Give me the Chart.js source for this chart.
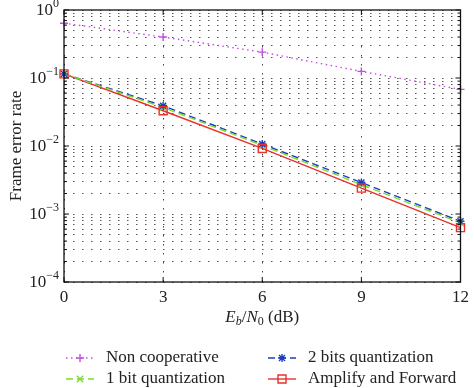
<!DOCTYPE html>
<html>
<head>
<meta charset="utf-8">
<script src="https://cdn.jsdelivr.net/npm/chart.js@4/dist/chart.umd.min.js"></script>
<style>
  html, body { margin: 0; padding: 0; background: #fff; }
  #wrap { width: 474px; height: 388px; }
</style>
</head>
<body>
<div id="wrap"><canvas id="ferChart" width="474" height="388"></canvas></div>
<script>
// Eb/N0 (dB)
const snr = [0, 3, 6, 9, 12];
// frame error rate per curve
const nonCooperative = [0.64, 0.40, 0.24, 0.125, 0.068];
const oneBit = [0.115, 0.037, 0.0102, 0.0027, 0.00074];
const twoBits = [0.115, 0.039, 0.0107, 0.0029, 0.00078];
const amplifyForward = [0.115, 0.033, 0.0092, 0.0024, 0.00063];

const seriesNames = ['Non cooperative', '1 bit quantization', '2 bits quantization', 'Amplify and Forward'];
const xTicks = [0, 3, 6, 9, 12];
const decades = [-4, -3, -2, -1, 0]; // y labels 10^k

const serif = '"Liberation Serif", "DejaVu Serif", serif';

// all log ticks 1..9 x 10^k for the dotted grid
const yTickValues = [];
for (let k = -4; k < 0; k++) {
    for (let m = 1; m <= 9; m++) {
        yTickValues.push(m * Math.pow(10, k));
    }
}
yTickValues.push(1);

function pts(arr) {
    return snr.map((x, i) => ({ x: x, y: arr[i] }));
}

const styles = [
    { color: '#c44fe4', dash: [1.5, 3.5], marker: 'plus' },
    { color: '#79de2c', dash: [7, 4], marker: 'x' },
    { color: '#1d3ec2', dash: [7, 4], marker: 'star' },
    { color: '#e8312d', dash: [], marker: 'square' }
];

function drawMarker(ctx, type, x, y, color) {
    const r = 4;
    ctx.save();
    ctx.setLineDash([]);
    ctx.strokeStyle = color;
    ctx.lineWidth = 1.4;
    ctx.beginPath();
    if (type === 'plus') {
        ctx.moveTo(x - r, y); ctx.lineTo(x + r, y);
        ctx.moveTo(x, y - r); ctx.lineTo(x, y + r);
    } else if (type === 'x') {
        ctx.moveTo(x - r * 0.8, y - r * 0.8); ctx.lineTo(x + r * 0.8, y + r * 0.8);
        ctx.moveTo(x - r * 0.8, y + r * 0.8); ctx.lineTo(x + r * 0.8, y - r * 0.8);
    } else if (type === 'star') {
        ctx.moveTo(x - r, y); ctx.lineTo(x + r, y);
        ctx.moveTo(x, y - r); ctx.lineTo(x, y + r);
        ctx.moveTo(x - r * 0.75, y - r * 0.75); ctx.lineTo(x + r * 0.75, y + r * 0.75);
        ctx.moveTo(x - r * 0.75, y + r * 0.75); ctx.lineTo(x + r * 0.75, y - r * 0.75);
    } else {
        ctx.rect(x - r, y - r, 2 * r, 2 * r);
    }
    ctx.stroke();
    ctx.restore();
}

// markers, frame, y labels, x title and legend
const decorPlugin = {
    id: 'decor',
    afterDatasetsDraw(chart) {
        const ctx = chart.ctx;
        const xs = chart.scales.x;
        const ys = chart.scales.y;
        chart.data.datasets.forEach((ds, i) => {
            ds.data.forEach(p => {
                drawMarker(ctx, styles[i].marker, xs.getPixelForValue(p.x), ys.getPixelForValue(p.y), styles[i].color);
            });
        });
    },
    afterDraw(chart) {
        const ctx = chart.ctx;
        const a = chart.chartArea;
        const xs = chart.scales.x;
        const ys = chart.scales.y;
        ctx.save();
        // frame
        ctx.strokeStyle = '#111';
        ctx.lineWidth = 1.3;
        ctx.setLineDash([]);
        ctx.strokeRect(a.left, a.top, a.right - a.left, a.bottom - a.top);
        // inner ticks
        ctx.lineWidth = 1;
        yTickValues.forEach(v => {
            const py = ys.getPixelForValue(v);
            const major = Math.abs(Math.log10(v) - Math.round(Math.log10(v))) < 1e-9;
            const len = major ? 5 : 3;
            ctx.beginPath();
            ctx.moveTo(a.left, py); ctx.lineTo(a.left + len, py);
            ctx.moveTo(a.right, py); ctx.lineTo(a.right - len, py);
            ctx.stroke();
        });
        xTicks.forEach(v => {
            const px = xs.getPixelForValue(v);
            ctx.beginPath();
            ctx.moveTo(px, a.bottom); ctx.lineTo(px, a.bottom - 5);
            ctx.moveTo(px, a.top); ctx.lineTo(px, a.top + 5);
            ctx.stroke();
        });
        // y labels 10^k
        ctx.fillStyle = '#222';
        ctx.textBaseline = 'middle';
        decades.forEach(k => {
            const py = ys.getPixelForValue(Math.pow(10, k));
            const exp = k === 0 ? '0' : '\u2212' + Math.abs(k);
            ctx.font = '12px ' + serif;
            const ew = ctx.measureText(exp).width;
            const right = a.left - 5;
            ctx.textAlign = 'left';
            ctx.fillText(exp, right - ew, py - 6);
            ctx.font = '17px ' + serif;
            ctx.textAlign = 'right';
            ctx.fillText('10', right - ew, py + 1);
        });
        // x title: Eb/N0 (dB)
        const parts = [
            { t: 'E', f: 'italic 17px ' + serif, dy: 0 },
            { t: 'b', f: 'italic 12px ' + serif, dy: 4 },
            { t: '/', f: '17px ' + serif, dy: 0 },
            { t: 'N', f: 'italic 17px ' + serif, dy: 0 },
            { t: '0', f: '12px ' + serif, dy: 4 },
            { t: ' (dB)', f: '17px ' + serif, dy: 0 }
        ];
        let total = 0;
        parts.forEach(p => { ctx.font = p.f; p.w = ctx.measureText(p.t).width; total += p.w; });
        let tx = (a.left + a.right) / 2 - total / 2;
        const ty = 318;
        ctx.textAlign = 'left';
        parts.forEach(p => { ctx.font = p.f; ctx.fillText(p.t, tx, ty + p.dy); tx += p.w; });
        // legend, two columns
        const slots = [
            { x: 66, y: 358 }, { x: 66, y: 379 },
            { x: 268, y: 358 }, { x: 268, y: 379 }
        ];
        seriesNames.forEach((name, i) => {
            const s = slots[i];
            ctx.strokeStyle = styles[i].color;
            ctx.lineWidth = 1.4;
            ctx.setLineDash(styles[i].dash);
            ctx.beginPath();
            ctx.moveTo(s.x, s.y); ctx.lineTo(s.x + 28, s.y);
            ctx.stroke();
            drawMarker(ctx, styles[i].marker, s.x + 14, s.y, styles[i].color);
            ctx.setLineDash([]);
            ctx.fillStyle = '#222';
            ctx.font = '17px ' + serif;
            ctx.fillText(name, s.x + 40, s.y);
        });
        ctx.restore();
    }
};

const datasets = [nonCooperative, oneBit, twoBits, amplifyForward].map((arr, i) => ({
    label: seriesNames[i],
    data: pts(arr),
    borderColor: styles[i].color,
    borderDash: styles[i].dash,
    borderWidth: 1.4,
    pointRadius: 0,
    fill: false,
    tension: 0,
    clip: false
}));

new Chart(document.getElementById('ferChart'), {
    type: 'line',
    data: { datasets: datasets },
    options: {
        responsive: false,
        animation: false,
        layout: { padding: { top: 10, right: 8, left: 0, bottom: 0 } },
        plugins: {
            legend: { display: false },
            tooltip: { enabled: false }
        },
        scales: {
            x: {
                type: 'linear',
                min: 0,
                max: 12,
                afterBuildTicks: scale => { scale.ticks = xTicks.map(v => ({ value: v })); },
                afterFit: scale => { scale.height = 106; },
                border: { display: false, dash: [1.5, 7.5] },
                grid: { color: '#444', lineWidth: 1, drawTicks: false },
                ticks: {
                    padding: 5,
                    color: '#222',
                    font: { family: serif, size: 17 }
                }
            },
            y: {
                type: 'logarithmic',
                min: 1e-4,
                max: 1,
                afterBuildTicks: scale => { scale.ticks = yTickValues.map(v => ({ value: v })); },
                afterFit: scale => { scale.width = 64; },
                border: { display: false, dash: [1.5, 7.5] },
                grid: { color: '#555', lineWidth: 1, drawTicks: false },
                ticks: { display: false },
                title: {
                    display: true,
                    text: 'Frame error rate',
                    color: '#222',
                    font: { family: serif, size: 17 },
                    padding: { top: 6, bottom: 0 }
                }
            }
        }
    },
    plugins: [decorPlugin]
});
</script>
</body>
</html>
